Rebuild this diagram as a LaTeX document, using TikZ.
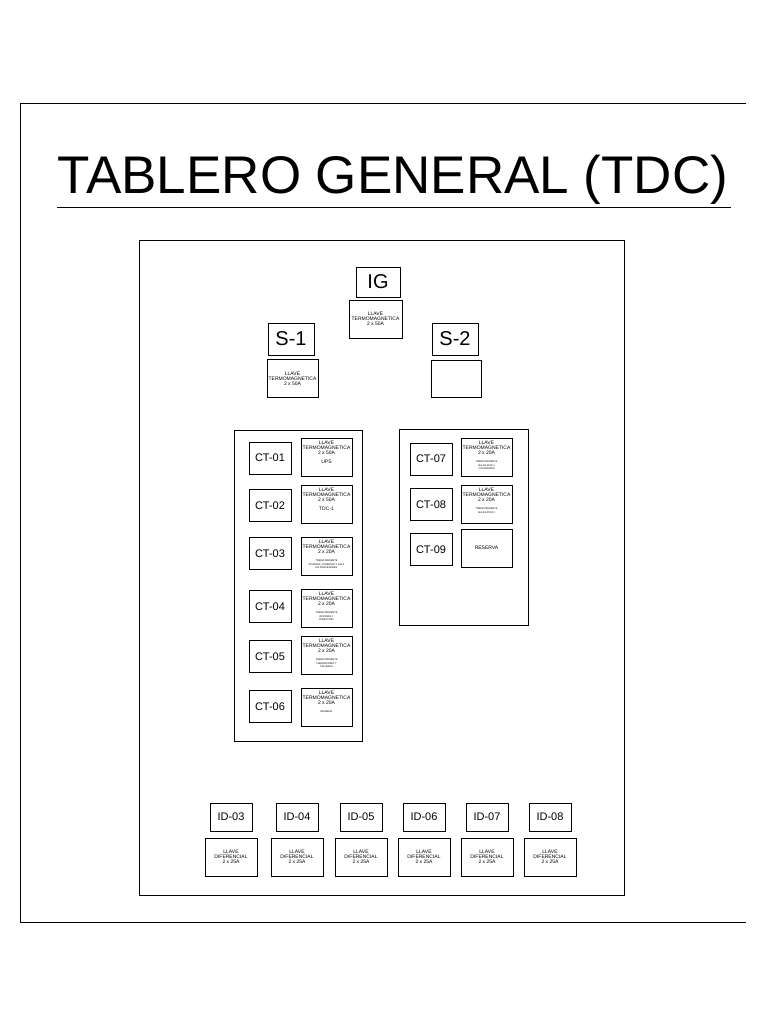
\documentclass[tikz,border=0pt]{standalone}
\usepackage{fontspec}
\setmainfont{Liberation Sans}
\begin{document}
\begin{tikzpicture}[x=1pt,y=-1pt,
 bx/.style={draw,line width=0.6pt,inner sep=0pt},
 lbl/.style={bx,minimum width=42pt,minimum height=32pt,font=\fontsize{11}{11}\selectfont},
 llave/.style={bx,minimum width=51pt,minimum height=38pt,align=center,font=\fontsize{5}{5}\selectfont},
 ltxt/.style={inner sep=0pt,align=center,font=\fontsize{5}{5}\selectfont,anchor=north},
 tiny/.style={inner sep=0pt,align=center,font=\fontsize{2.5}{3.2}\selectfont,anchor=north}]
\useasboundingbox (0,0) rectangle (768,1024);
\draw[line width=0.6pt] (746,103) -- (20,103) -- (20,922) -- (746,922);
\node[font=\fontsize{53}{53}\selectfont,inner sep=0pt] (title) at (393,180) {TABLERO GENERAL (TDC)};
\draw[line width=0.6pt] (57,207) -- (731,207);
\draw[line width=0.6pt] (139,240) rectangle (624,895);
\node[bx,minimum width=44pt,minimum height=30pt,font=\fontsize{20}{20}\selectfont] (ig) at (378,282) {IG};
\node[llave,minimum width=53pt] (igl) at (375.5,319) {LLAVE\\TERMOMAGNETICA\\2 x 50A};
\node[bx,minimum width=46pt,minimum height=32pt,font=\fontsize{20}{20}\selectfont] (s1) at (291,339) {S-1};
\node[llave] (s1l) at (292.5,378.5) {LLAVE\\TERMOMAGNETICA\\2 x 50A};
\node[bx,minimum width=46pt,minimum height=32pt,font=\fontsize{20}{20}\selectfont] (s2) at (455,339) {S-2};
\node[bx,minimum width=50pt,minimum height=37pt] (s2l) at (456,378.5) {};
\draw[line width=0.6pt] (234,430) rectangle (362,741);
\draw[line width=0.6pt] (399,429) rectangle (528,625);
\foreach \n/\lx/\ly/\bx/\by/\a/\ta/\tb/\tc in {
 01/270/458/326.5/438/50/UPS//,
 02/270/505.5/326.5/485/50/TDC-1//,
 03/270/553.5/326.5/537/20/TOMACORRIENTE/{OFICINAS, COMEDOR Y SALA}/DE PROFESORES,
 04/270/606.5/326.5/589/20/TOMACORRIENTE/OFICINAS Y/DIRECCION,
 05/270/656.5/326.5/636/20/TOMACORRIENTE/LABORATORIO Y/TALLERES,
 06/270/706.5/326.5/688/20/RESERVA//,
 07/431/459/486.5/438/20/TOMACORRIENTE/AULAS PISO 1/Y PASADIZOS,
 08/431/504.5/486.5/485/20/TOMACORRIENTE/AULAS PISO 2/}{
  \node[lbl] (c\n) at (\lx,\ly) {CT-\n};
  \node[bx,minimum width=51pt,minimum height=38pt,anchor=north] (c\n l) at (\bx,\by) {};
  \node[ltxt] (c\n t) at ([yshift=-2.5pt]c\n l.north) {LLAVE\\TERMOMAGNETICA\\2 x \a A};
  \ifnum\n<3
    \node[ltxt] (c\n s) at ([yshift=-22pt]c\n l.north) {\ta};
  \else
    \node[tiny] (c\n s) at ([yshift=-23pt]c\n l.north) {\ta\\\tb\\\tc};
  \fi
}
\node[lbl] (c09) at (431,549.5) {CT-09};
\node[llave] (c09l) at (486.5,548) {RESERVA};
\foreach \n/\x in {03/231,04/297,05/361,06/424,07/487,08/550}{
  \node[lbl,minimum height=28pt] (id\n) at (\x,817) {ID-\n};
  \node[llave,minimum width=52pt] (id\n l) at (\x,857) {LLAVE\\DIFERENCIAL\\2 x 25A};
}
\end{tikzpicture}
\end{document}
